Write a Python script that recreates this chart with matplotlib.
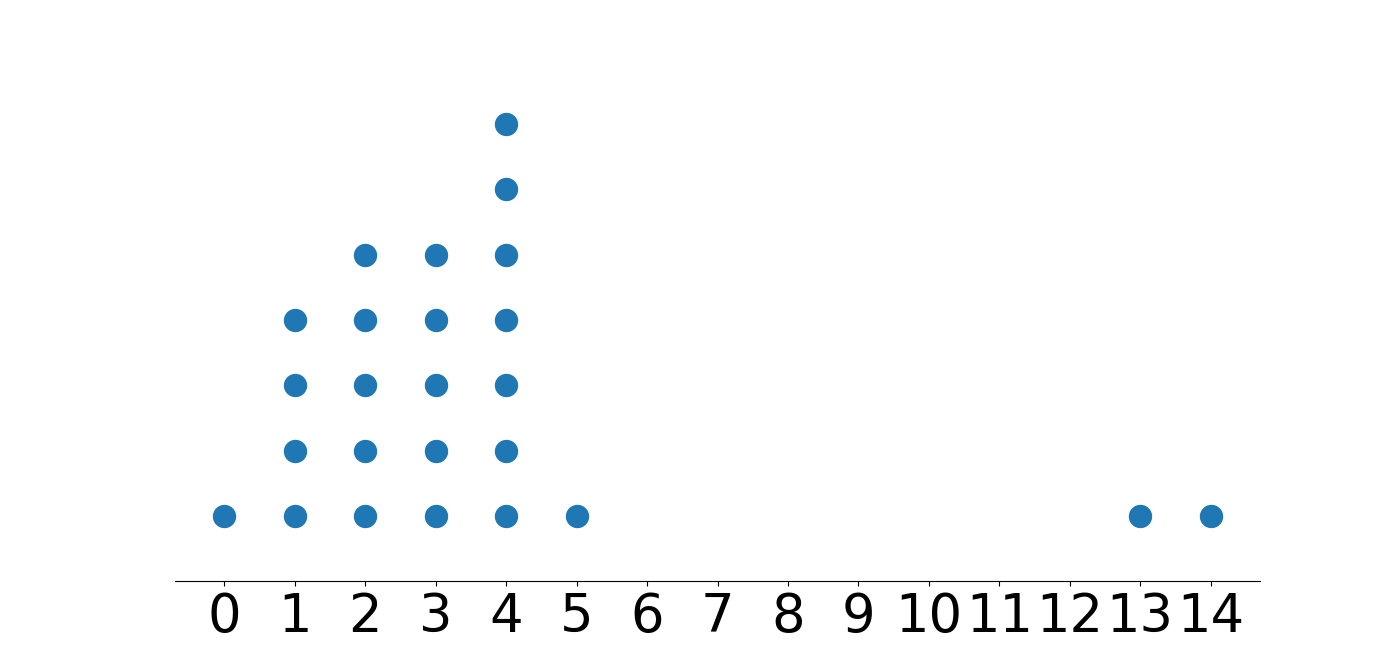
import numpy as np
import matplotlib
matplotlib.use("Agg")
import matplotlib.pyplot as plt

values = [0, 1, 2, 3, 4, 5, 13, 14]
counts = [1, 4, 5, 5, 7, 1, 1, 1]

xs = []
ys = []
for v, c in zip(values, counts):
    for k in range(1, c + 1):
        xs.append(v)
        ys.append(k)

fig, ax = plt.subplots(figsize=(14, 6.53), dpi=100)
ax.scatter(xs, ys, s=250, color="#1f77b4")

ax.set_ylim(0, 7.7)
ax.set_xticks(range(0, 15))
ax.tick_params(axis="x", labelsize=38)
ax.set_yticks([])
for side in ["left", "right", "top"]:
    ax.spines[side].set_visible(False)

fig.savefig("out.png", dpi=100)
